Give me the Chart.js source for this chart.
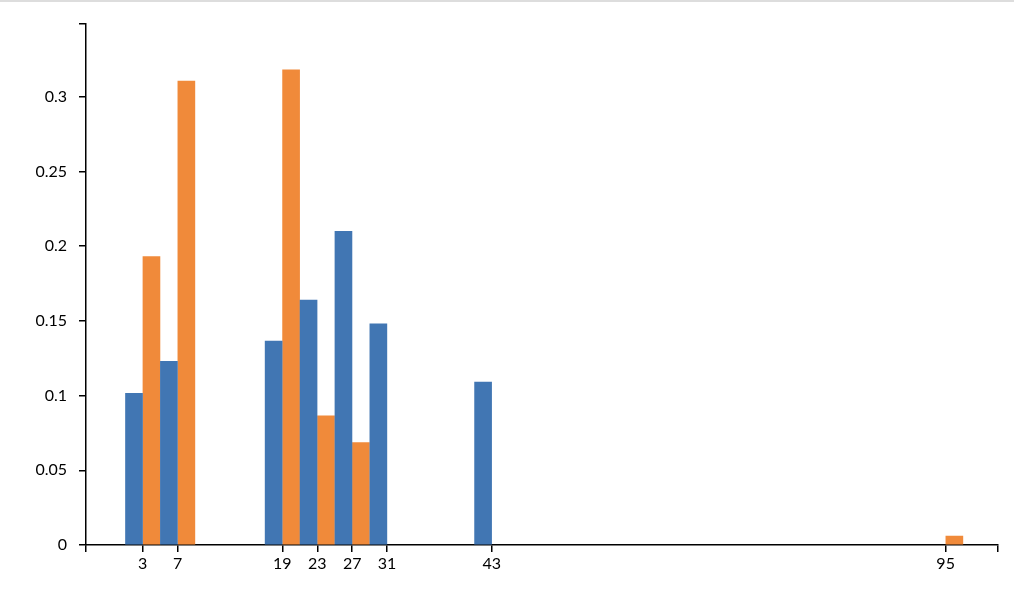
<!DOCTYPE html>
<html lang="en">
<head>
<meta charset="UTF-8">
<title>Bars</title>
<script src="https://cdn.jsdelivr.net/npm/chart.js@4.4.0/dist/chart.umd.min.js"></script>
<style>
  body { margin: 0; background: #fff; border-top: 2px solid #ddd; }
  #wrap { width: 1014px; height: 590px; }
</style>
</head>
<body>
<div id="wrap"><canvas id="chart"></canvas></div>
<script>
var blueX = [3, 7, 19, 23, 27, 31, 43];
var blueY = [0.1015, 0.123, 0.1365, 0.164, 0.210, 0.148, 0.109];
var orangeX = [3, 7, 19, 23, 27, 95];
var orangeY = [0.193, 0.3105, 0.318, 0.0864, 0.0686, 0.006];
var xTicks = [3, 7, 19, 23, 27, 31, 43, 95];
var xMin = -3.5, xMax = 101, yMax = 0.349;

// blue sits left of its tick, orange right
function pts(xs, ys, shift) {
    return xs.map(function (x, i) { return { x: x + shift, y: ys[i] }; });
}

new Chart(document.getElementById('chart'), {
    type: 'bar',
    data: {
        datasets: [
            { data: pts(blueX, blueY, -1), backgroundColor: '#4176b3', grouped: false, barThickness: 17 },
            { data: pts(orangeX, orangeY, 1), backgroundColor: '#f08a3a', grouped: false, barThickness: 17 }
        ]
    },
    options: {
        responsive: true,
        maintainAspectRatio: false,
        animation: false,
        layout: { padding: { top: 6, right: 16, left: 0, bottom: 0 } },
        plugins: { legend: { display: false }, tooltip: { enabled: false } },
        scales: {
            x: {
                type: 'linear', min: xMin, max: xMax, offset: false,
                border: { color: '#000', width: 1.5 },
                grid: { drawOnChartArea: false, color: '#000', tickLength: 7, lineWidth: 1.5, offset: false },
                afterBuildTicks: function (s) {
                    s.ticks = [xMin].concat(xTicks, [xMax]).map(function (v) { return { value: v }; });
                },
                afterFit: function (s) { s.height = 47; },
                ticks: {
                    autoSkip: false, maxRotation: 0, color: '#000', padding: 2,
                    font: { family: 'Lato', size: 16 },
                    callback: function (v) { return xTicks.indexOf(v) >= 0 ? String(v) : ''; }
                }
            },
            y: {
                min: 0, max: yMax,
                border: { color: '#000', width: 1.5 },
                grid: { drawOnChartArea: false, color: '#000', tickLength: 7, lineWidth: 1.5 },
                afterBuildTicks: function (s) {
                    var t = [];
                    for (var i = 0; i <= 6; i++) t.push({ value: i * 0.05 });
                    t.push({ value: yMax });
                    s.ticks = t;
                },
                afterFit: function (s) { s.width = 86; },
                ticks: {
                    color: '#000', padding: 12,
                    font: { family: 'Lato', size: 16 },
                    callback: function (v) { return v === yMax ? '' : String(+v.toFixed(2)); }
                }
            }
        }
    }
});
</script>
</body>
</html>
